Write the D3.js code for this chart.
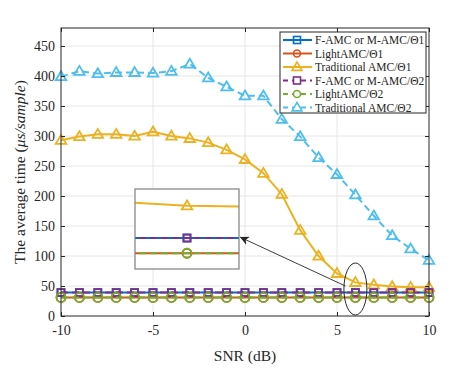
<!DOCTYPE html>
<html>
<head>
<meta charset="utf-8">
<script src="https://cdn.jsdelivr.net/npm/d3@7"></script>
<style>
  body { margin: 0; background: #fff; }
  text { font-family: "Liberation Serif", "Times New Roman", serif; fill: #262626; }
</style>
</head>
<body>
<svg id="chart" width="474" height="370"></svg>
<script>
// SNR points (dB)
const snr = d3.range(-10, 11, 1);

// average time per sample (us)
const fAmc1 = [39, 39, 39, 39, 39, 39, 39, 39, 39, 39, 39, 39, 39, 39, 39, 39, 39, 39, 39, 39, 39];
const light1 = [31, 31, 31, 31, 31, 31, 31, 31, 31, 31, 31, 31, 31, 31, 31, 31, 31, 31, 31, 31, 31];
const trad1 = [293, 299, 303, 303, 300, 307, 300, 296, 289, 277, 261, 238, 203, 143, 100, 71, 56, 52, 49, 48, 48];
const fAmc2 = [39, 39, 39, 39, 39, 39, 39, 39, 39, 39, 39, 39, 39, 39, 39, 39, 39, 39, 39, 39, 39];
const light2 = [31, 31, 31, 31, 31, 31, 31, 31, 31, 31, 31, 31, 31, 31, 31, 31, 31, 31, 31, 31, 31];
const trad2 = [399, 408, 404, 406, 406, 405, 408, 420, 397, 382, 367, 367, 328, 299, 264, 236, 202, 167, 134, 112, 93];

const xTicks = [-10, -5, 0, 5, 10];
const yTicks = d3.range(0, 451, 50);

const series = [
  { name: 'F-AMC or M-AMC/\u03981', values: fAmc1, color: '#0072BD', dash: null, marker: 'square' },
  { name: 'LightAMC/\u03981', values: light1, color: '#D95319', dash: null, marker: 'circle' },
  { name: 'Traditional AMC/\u03981', values: trad1, color: '#EDB120', dash: null, marker: 'triangle' },
  { name: 'F-AMC or M-AMC/\u03982', values: fAmc2, color: '#7E2F8E', dash: '7,4', marker: 'square' },
  { name: 'LightAMC/\u03982', values: light2, color: '#77AC30', dash: '7,4', marker: 'circle' },
  { name: 'Traditional AMC/\u03982', values: trad2, color: '#4DBEEE', dash: '7,4', marker: 'triangle' }
];

const svg = d3.select('#chart');
const margin = { top: 28, right: 45, bottom: 54, left: 61 };
const width = 474 - margin.left - margin.right;
const height = 370 - margin.top - margin.bottom;

const x = d3.scaleLinear().domain([-10, 10]).range([0, width]);
const y = d3.scaleLinear().domain([0, 480]).range([height, 0]);

const g = svg.append('g').attr('transform', `translate(${margin.left},${margin.top})`);

// grid
g.append('g').selectAll('line').data(xTicks.slice(1, -1)).enter().append('line')
  .attr('x1', d => x(d)).attr('x2', d => x(d)).attr('y1', 0).attr('y2', height)
  .attr('stroke', '#e6e6e6').attr('stroke-width', 1);
g.append('g').selectAll('line').data(yTicks.slice(1)).enter().append('line')
  .attr('x1', 0).attr('x2', width).attr('y1', d => y(d)).attr('y2', d => y(d))
  .attr('stroke', '#e6e6e6').attr('stroke-width', 1);

function drawMarker(sel, type, size) {
  if (type === 'square') {
    sel.append('rect').attr('x', -size / 2).attr('y', -size / 2).attr('width', size).attr('height', size);
  } else if (type === 'circle') {
    sel.append('circle').attr('r', size / 2);
  } else {
    const h = size * 0.9;
    sel.append('path').attr('d', `M0,${-h * 0.62}L${size / 2 + 0.5},${h * 0.42}L${-size / 2 - 0.5},${h * 0.42}Z`);
  }
}
const markerSize = { square: 7, circle: 9, triangle: 9.5 };

function drawSeries(parent, xs, ys, s, points) {
  const line = d3.line().x((d, i) => xs(snr[i])).y(d => ys(d));
  parent.append('path').datum(s.values)
    .attr('d', line).attr('fill', 'none')
    .attr('stroke', s.color).attr('stroke-width', 2)
    .attr('stroke-dasharray', s.dash);
  const m = parent.append('g').selectAll('g')
    .data(s.values.map((v, i) => [snr[i], v]).filter(d => points(d[0])))
    .enter().append('g')
    .attr('transform', d => `translate(${xs(d[0])},${ys(d[1])})`)
    .attr('fill', 'none').attr('stroke', s.color).attr('stroke-width', 1.8);
  drawMarker(m, s.marker, markerSize[s.marker]);
}

series.forEach(s => drawSeries(g, x, y, s, () => true));

// box + axes
g.append('rect').attr('width', width).attr('height', height)
  .attr('fill', 'none').attr('stroke', '#262626').attr('stroke-width', 1);

const fmt = d => String(d);
const xAxis = g.append('g').attr('transform', `translate(0,${height})`)
  .call(d3.axisBottom(x).tickValues(xTicks).tickFormat(fmt).tickSize(-4).tickPadding(9));
const yAxis = g.append('g')
  .call(d3.axisLeft(y).tickValues(yTicks).tickFormat(fmt).tickSize(-4).tickPadding(6));
g.append('g').call(d3.axisTop(x).tickValues(xTicks).tickSize(-4).tickFormat(''));
g.append('g').attr('transform', `translate(${width},0)`)
  .call(d3.axisRight(y).tickValues(yTicks).tickSize(-4).tickFormat(''));
g.selectAll('.domain').remove();
g.selectAll('.tick line').attr('stroke', '#262626');
[xAxis, yAxis].forEach(a => a.selectAll('text').style('font-size', '14px')
  .style('font-family', '"Liberation Serif", serif').attr('fill', '#262626'));

// axis titles
svg.append('text').attr('x', margin.left + width / 2).attr('y', 361)
  .attr('text-anchor', 'middle').style('font-size', '15.5px').text('SNR (dB)');
const yl = svg.append('text').attr('transform', `translate(25,${margin.top + height / 2}) rotate(-90)`)
  .attr('text-anchor', 'middle').style('font-size', '15.5px');
yl.append('tspan').text('The average time (');
yl.append('tspan').style('font-style', 'italic').text('\u03bcs/sample');
yl.append('tspan').text(')');

// zoomed inset around SNR = 6 dB
const ix = d3.scaleLinear().domain([5.9, 6.1]).range([135, 239]);
const iy = d3.scaleLinear().domain([22.7, 64.8]).range([269, 189]);
svg.append('clipPath').attr('id', 'inset-clip').append('rect')
  .attr('x', 135).attr('y', 189).attr('width', 104).attr('height', 80);
svg.append('rect').attr('x', 135).attr('y', 189).attr('width', 104).attr('height', 80)
  .attr('fill', '#fff');
const inset = svg.append('g').attr('clip-path', 'url(#inset-clip)');
series.forEach(s => drawSeries(inset, ix, iy, s, d => d === 6));
svg.append('rect').attr('x', 135).attr('y', 189).attr('width', 104).attr('height', 80)
  .attr('fill', 'none').attr('stroke', '#7f7f7f').attr('stroke-width', 1.2);

// ellipse + arrow
const ex = margin.left + x(6), ey = margin.top + y(45);
svg.append('ellipse').attr('cx', ex).attr('cy', ey).attr('rx', 11.5).attr('ry', 26)
  .attr('fill', 'none').attr('stroke', '#262626').attr('stroke-width', 1);
svg.append('defs').append('marker').attr('id', 'arrow')
  .attr('viewBox', '0 0 10 10').attr('refX', 10).attr('refY', 5)
  .attr('markerWidth', 9).attr('markerHeight', 9).attr('orient', 'auto')
  .attr('markerUnits', 'userSpaceOnUse')
  .append('path').attr('d', 'M0,0L10,5L0,10L3,5Z').attr('fill', '#262626');
svg.append('line').attr('x1', ex - 10).attr('y1', ey - 3)
  .attr('x2', 240).attr('y2', iy(39.5))
  .attr('stroke', '#262626').attr('stroke-width', 0.9).attr('marker-end', 'url(#arrow)');

// legend
const lg = svg.append('g').attr('transform', 'translate(280,32)');
lg.append('rect').attr('width', 146).attr('height', 81)
  .attr('fill', '#fff').attr('stroke', '#262626').attr('stroke-width', 1);
series.forEach((s, i) => {
  const row = lg.append('g').attr('transform', `translate(0,${8 + i * 13.5})`);
  row.append('line').attr('x1', 3).attr('x2', 32).attr('y1', 0).attr('y2', 0)
    .attr('stroke', s.color).attr('stroke-width', 2).attr('stroke-dasharray', s.dash ? '5,4' : null);
  const m = row.append('g').attr('transform', 'translate(17,0)')
    .attr('fill', s.dash ? '#fff' : 'none').attr('stroke', s.color).attr('stroke-width', 1.6);
  drawMarker(m, s.marker, s.marker === 'triangle' ? 9 : 7);
  row.append('text').attr('x', 35).attr('y', 4).style('font-size', '11.5px').text(s.name);
});
</script>
</body>
</html>
